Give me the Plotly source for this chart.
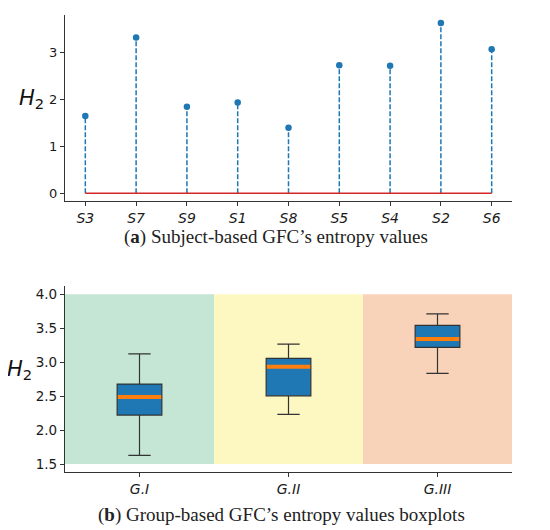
import plotly.graph_objects as go
from plotly.subplots import make_subplots

# --- data -----------------------------------------------------------------
subjects = ["S3", "S7", "S9", "S1", "S8", "S5", "S4", "S2", "S6"]
entropy = [1.645, 3.31, 1.84, 1.93, 1.39, 2.72, 2.71, 3.62, 3.06]

groups = ["G.I", "G.II", "G.III"]
g_low = [1.627, 2.23, 2.834]
g_q1 = [2.221, 2.504, 3.216]
g_med = [2.485, 2.93, 3.34]
g_q3 = [2.676, 3.054, 3.54]
g_high = [3.122, 3.265, 3.71]
band_colors = ["#c5e6d5", "#fdf7c1", "#f8d3b9"]

BLUE = "#1f77b4"
AX = "#333333"

# page body has an 8px margin, so work in a 542x522 frame
W, H, OFF = 542, 522, 8


def px(x):
    return (x - OFF) / W


def py(y):
    return 1 - (y - OFF) / H


fig = make_subplots(rows=2, cols=1)

# stems
sx, sy = [], []
for s, v in zip(subjects, entropy):
    sx += [s, s, None]
    sy += [0, v, None]
fig.add_trace(go.Scatter(x=sx, y=sy, mode="lines",
                         line=dict(color=BLUE, width=1.5, dash="5px,2px"),
                         showlegend=False, hoverinfo="skip"), row=1, col=1)
# baseline
fig.add_trace(go.Scatter(x=[subjects[0], subjects[-1]], y=[0, 0], mode="lines",
                         line=dict(color="#d62728", width=1.5),
                         showlegend=False), row=1, col=1)
# markers
fig.add_trace(go.Scatter(x=subjects, y=entropy, mode="markers",
                         marker=dict(color=BLUE, size=6.5),
                         showlegend=False), row=1, col=1)

# background bands
for i, c in enumerate(band_colors):
    fig.add_shape(type="rect", xref="x2", yref="y2",
                  x0=i - 0.5, x1=i + 0.5, y0=1.5, y1=4.0,
                  fillcolor=c, line_width=0, layer="below")

# boxes
fig.add_trace(go.Box(x=list(range(len(groups))), q1=g_q1, median=g_med, q3=g_q3,
                     lowerfence=g_low, upperfence=g_high,
                     fillcolor=BLUE, line=dict(color=AX, width=1.2),
                     width=0.3, whiskerwidth=0.5, boxpoints=False,
                     showlegend=False), row=2, col=1)
# orange medians
mx, my = [], []
for i, m in enumerate(g_med):
    mx += [i - 0.146, i + 0.146, None]
    my += [m, m, None]
fig.add_trace(go.Scatter(x=mx, y=my, mode="lines",
                         line=dict(color="#ff7f0e", width=4),
                         showlegend=False, hoverinfo="skip"), row=2, col=1)

axis_common = dict(showline=True, linecolor=AX, linewidth=1.2, ticks="outside",
                   ticklen=4, tickcolor=AX, showgrid=False, zeroline=False)

fig.update_xaxes(**axis_common)
fig.update_yaxes(**axis_common)

fig.update_xaxes(domain=[px(65), px(512)], range=[-0.4, 8.4],
                 tickfont=dict(family="DejaVu Sans", size=14, color="#1a1a1a"),
                 tickvals=subjects, ticktext=["<i>%s</i>" % s for s in subjects],
                 row=1, col=1)
fig.update_yaxes(domain=[py(201), py(15)], range=[-0.165, 3.79],
                 tickfont=dict(family="DejaVu Sans", size=13, color="#1a1a1a"),
                 tickvals=[0, 1, 2, 3], row=1, col=1)

fig.update_xaxes(domain=[px(65), px(512)], range=[-0.5, 2.5],
                 tickfont=dict(family="DejaVu Sans", size=14, color="#1a1a1a"),
                 tickvals=list(range(len(groups))),
                 ticktext=["<i>%s</i>" % g for g in groups], row=2, col=1)
fig.update_yaxes(domain=[py(471.7), py(286)], range=[1.387, 4.12],
                 tickfont=dict(family="DejaVu Sans", size=13.5, color="#1a1a1a"),
                 tickvals=[1.5, 2.0, 2.5, 3.0, 3.5, 4.0], tickformat=".1f",
                 row=2, col=1)

# y labels
for xx, yy in [(31, 99), (19.5, 370)]:
    fig.add_annotation(text="<i>H</i><sub>2</sub>", xref="paper", yref="paper",
                       x=px(xx), y=py(yy), xanchor="center", yanchor="middle",
                       showarrow=False,
                       font=dict(family="DejaVu Sans", size=21, color="#111"))

# captions
fig.add_annotation(text="(<b>a</b>) Subject-based GFC\u2019s entropy values",
                   xref="paper", yref="paper", x=px(275.5), y=py(237),
                   xanchor="center", yanchor="middle", showarrow=False,
                   font=dict(family="Liberation Serif", size=19, color="#222"))
fig.add_annotation(text="(<b>b</b>) Group-based GFC\u2019s entropy values boxplots",
                   xref="paper", yref="paper", x=px(281.5), y=py(515),
                   xanchor="center", yanchor="middle", showarrow=False,
                   font=dict(family="Liberation Serif", size=19, color="#222"))

fig.update_layout(width=W, height=H, margin=dict(l=0, r=0, t=0, b=0),
                  plot_bgcolor="white", paper_bgcolor="white")

fig.write_html("out.html")
